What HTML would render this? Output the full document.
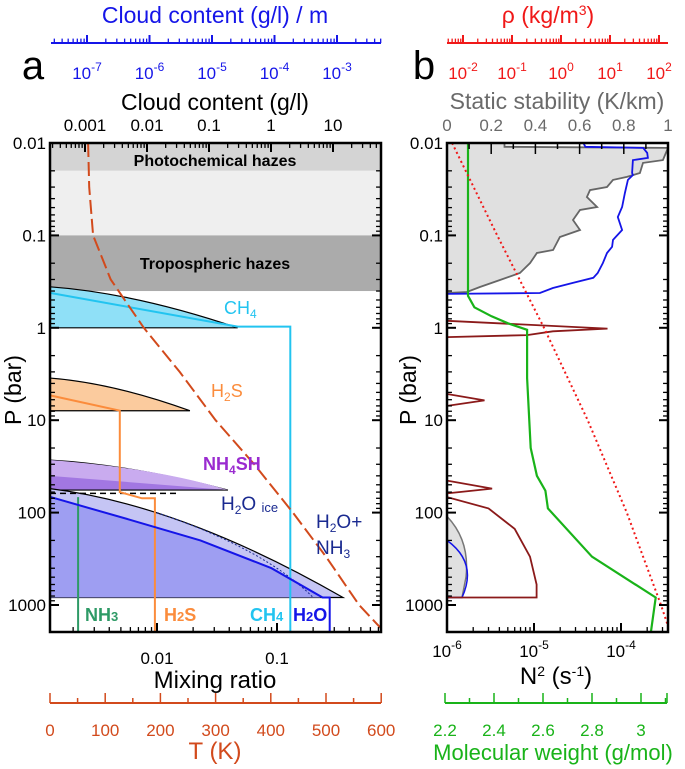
<!DOCTYPE html>
<html><head><meta charset="utf-8"><style>
body{margin:0;background:#fff}
svg{display:block;font-family:"Liberation Sans",Arial,sans-serif}
</style></head><body>
<svg id="fig" width="685" height="769" viewBox="0 0 685 769">
<g id="static"></g>
</svg>
<script>
// ---------- data ----------
const tempP=[0.01,0.03,0.1,0.3,1,3,10,30,100,300,1000,1800];
const tempT=[69,71,78,110,170,235,300,370,440,500,560,600];
const ch4P=[0.42,0.97,0.97,2000]; const ch4M=[0.0013,0.047,0.129,0.129];
const h2sP=[5.4,7.9,7.9,60,70,70,2000]; const h2sM=[0.0013,0.0049,0.0049,0.0049,0.0075,0.0096,0.0096];
const nh3P=[68,2000]; const nh3M=[0.0022,0.0022];
const h2oP=[68,120,200,400,830,830,2000]; const h2oM=[0.0013,0.006,0.023,0.09,0.24,0.275,0.275];
const cloudNames=["CH4","H2S","NH4SH","H2O"];
const cloudTop=[0.36,3.5,27,55]; const cloudBase=[1.0,7.9,57,830]; const cloudMax=[0.047,0.0188,0.039,0.355];
const rhoP=[0.01,0.1,1,10,100,1000,2000]; const rhoV=[0.006,0.05,0.45,3.5,22,110,170];
const mwP=[0.01,0.45,0.6,0.75,0.9,1.05,3.5,20,40,58,90,300,830,2000];
const mwV=[2.294,2.294,2.32,2.39,2.46,2.535,2.535,2.55,2.575,2.61,2.62,2.8,3.06,3.04];
const ssP=[0.01,0.01,0.011,0.0113,0.0153,0.0164,0.0211,0.0233,0.0251,0.0299,0.0323,0.0384,0.0493,0.0531,0.0681,0.0875,0.104,0.144,0.155,0.199,0.255,0.304,0.362,0.41,0.42];
const ssV=[0,0.26,0.26,1.0,0.977,0.887,0.873,0.814,0.751,0.724,0.647,0.633,0.679,0.602,0.57,0.602,0.511,0.48,0.407,0.376,0.33,0.24,0.149,0.09,0];
const n2bP=[0.01,0.01,0.011,0.0113,0.0128,0.0145,0.0153,0.0211,0.0222,0.0251,0.0348,0.0493,0.0632,0.0875,0.112,0.133,0.155,0.199,0.255,0.288,0.327,0.371,0.42,0.43];
const n2bV=[7.5e-5,3.7e-5,3.9e-5,1.8e-4,2e-4,2.04e-4,1.37e-4,1.34e-4,1.37e-4,1.2e-4,1.11e-4,1.03e-4,9.2e-5,1.03e-4,8.1e-5,7.9e-5,6.9e-5,6.2e-5,5.4e-5,4.8e-5,2.8e-5,1.65e-5,1.17e-5,1e-6];
const n2rP=[0.84,1.02,1.09,1.2,1.26,5.2,6.1,7,45,55,62,68,90,150,300,600,830,830];
const n2rV=[1e-6,7e-5,1.65e-5,8.3e-6,1e-6,1e-6,2.7e-6,1e-6,1e-6,3.3e-6,1e-6,1e-6,3e-6,6e-6,9e-6,1.07e-5,1.07e-5,1e-6];
// ---------- axes ----------
const yP=p=>143+(Math.log10(p)+2)*92.4;
const xM=m=>157+(Math.log10(m)+2)*120;
const xT=t=>50+t*0.552;
const xN=n=>447+(Math.log10(n)+6)*87;
const xS=s=>447+s*221;
const xR=r=>463+(Math.log10(r)+2)*49;
const xW=w=>445+(w-2.2)*245;
const NS="http://www.w3.org/2000/svg";
const svg=document.getElementById('fig');
function mk(tag,attrs,parent){const e=document.createElementNS(NS,tag);for(const k in attrs)e.setAttribute(k,attrs[k]);(parent||svg).appendChild(e);return e;}
function txt(x,y,s,size,fill,anchor){const e=mk('text',{x:x,y:y,'font-size':size,fill:fill,'text-anchor':anchor||'middle'});e.innerHTML=s;return e;}
function pts(P,V,fx){return P.map((p,i)=>fx(V[i]).toFixed(1)+','+yP(p).toFixed(1)).join(' ');}
const clipA=mk('clipPath',{id:'ca'});mk('rect',{x:50,y:143,width:331,height:489},clipA);
const clipB=mk('clipPath',{id:'cb'});mk('rect',{x:447,y:143,width:221,height:489},clipB);
const gA=mk('g',{'clip-path':'url(#ca)'});
const gB=mk('g',{'clip-path':'url(#cb)'});
let r;
r=mk('rect',{x:50,y:143,width:331,height:yP(0.02)-143,fill:'#d4d4d4'},gA);
r=mk('rect',{x:50,y:yP(0.02),width:331,height:yP(0.1)-yP(0.02),fill:'#efefef'},gA);
r=mk('rect',{x:50,y:yP(0.1),width:331,height:yP(0.4)-yP(0.1),fill:'#ababab'},gA);
const cFill=['#8fe0f7','#fbcb9e','#a277e2','#c5c5f4'];
cloudNames.forEach((n,i)=>{
 const x0=50,y0=yP(cloudTop[i]),y1=yP(cloudBase[i]),xa=xM(cloudMax[i]);
 const d=`M${x0},${y0} Q${x0+(xa-x0)*0.45},${y0+(y1-y0)*0.15} ${xa},${y1} L${x0},${y1} Z`;
 const p=mk('path',{d:d,fill:cFill[i],stroke:'#000','stroke-width':1.2},gA);
 
 
});
const innerPts=h2oP.slice(0,5).map((p,i)=>xM(h2oM[i])+','+yP(p)).join(' ')+` 50,${yP(830)}`;
const inner=mk('polygon',{points:innerPts,fill:'#9e9ef2'},gA);


const nl=mk('path',{d:`M50,${yP(27)} Q${xM(0.01)},${yP(33)} ${xM(0.039)},${yP(57)} L50,${yP(40)} Z`,fill:'#c9abef'},gA);


const dl=mk('line',{x1:50,y1:yP(62),x2:180,y2:yP(62),stroke:'#000','stroke-width':1.5,'stroke-dasharray':'6,4'},gA);


const dot=mk('path',{d:`M${xM(0.01)},${yP(100)} Q${xM(0.08)},${yP(250)} ${xM(0.2)},${yP(830)}`,fill:'none',stroke:'#1a2a90','stroke-width':1,'stroke-dasharray':'2,2'},gA);


let l;
l=mk('polyline',{points:pts(ch4P,ch4M,xM),fill:'none',stroke:'#22c4f0','stroke-width':2},gA);
l=mk('polyline',{points:pts(h2sP,h2sM,xM),fill:'none',stroke:'#fb8c3c','stroke-width':2},gA);
l=mk('polyline',{points:pts(nh3P,nh3M,xM),fill:'none',stroke:'#2e9a66','stroke-width':2},gA);
l=mk('polyline',{points:pts(h2oP,h2oM,xM),fill:'none',stroke:'#1515e8','stroke-width':2},gA);
l=mk('polyline',{points:pts(tempP,tempT,xT),fill:'none',stroke:'#d24a1c','stroke-width':2,'stroke-dasharray':'14,5'},gA);
const ssArea=mk('polygon',{points:pts(ssP,ssV,xS),fill:'#e0e0e0',stroke:'#666','stroke-width':1.8},gB);

const lobe=mk('path',{d:`M447,${yP(110)} Q470,${yP(200)} 466,${yP(500)} L462,${yP(830)} L447,${yP(830)} Z`,fill:'#e0e0e0',stroke:'#777','stroke-width':1.5},gB);

const lobeB=mk('path',{d:`M447,${yP(200)} Q478,${yP(350)} 462,${yP(830)} L447,${yP(830)}`,fill:'none',stroke:'#1515e8','stroke-width':1.5},gB);

l=mk('polyline',{points:pts(n2bP,n2bV,xN),fill:'none',stroke:'#1515e8','stroke-width':1.8},gB);
l=mk('polyline',{points:pts(n2rP,n2rV,xN),fill:'none',stroke:'#8b1a1a','stroke-width':1.8},gB);
l=mk('polyline',{points:pts(mwP,mwV,xW),fill:'none',stroke:'#19b319','stroke-width':2.2},gB);
l=mk('polyline',{points:pts(rhoP,rhoV,xR),fill:'none',stroke:'#f01818','stroke-width':2,'stroke-dasharray':'2,3'},gB);
let f=mk('rect',{x:50,y:143,width:331,height:489,fill:'none',stroke:'#000','stroke-width':2.5});
f=mk('rect',{x:447,y:143,width:221,height:489,fill:'none',stroke:'#000','stroke-width':2.5});
function logTicks(fx,lo,hi,y,dir,color,len,x0,x1){
 for(let e=lo;e<=hi;e++)for(let k=1;k<10;k++){const v=k*Math.pow(10,e);const x=fx(v);if(x<x0-0.5||x>x1+0.5)continue;
  const L=k==1?len:len*0.55;mk('line',{x1:x,y1:y,x2:x,y2:y+dir*L,stroke:color,'stroke-width':k==1?2:1.3});}
}
function logTicksY(x,dir,len){for(let e=-2;e<=3;e++)for(let k=1;k<10;k++){const v=k*Math.pow(10,e);const y=yP(v);if(y>632)continue;const L=k==1?len:len*0.55;mk('line',{x1:x,y1:y,x2:x+dir*L,y2:y,stroke:'#000','stroke-width':k==1?2:1.3});}}
logTicksY(50,1,9);logTicksY(381,-1,9);logTicksY(447,1,9);logTicksY(668,-1,9);
logTicks(xM,-3,0,632,-1,'#000',9,50,381);
const xC=c=>85+(Math.log10(c)+3)*62;
logTicks(xC,-4,1,143,1,'#000',9,50,381);
const xCm=c=>87+(Math.log10(c)+7)*62.5;
mk('line',{x1:51,y1:43,x2:381,y2:43,stroke:'#1515e8','stroke-width':2});
logTicks(xCm,-8,-3,43,-1,'#1515e8',8,50,381);
mk('line',{x1:50,y1:703,x2:381,y2:703,stroke:'#d24a1c','stroke-width':2});
for(let t=0;t<=600;t+=50){const x=xT(t);mk('line',{x1:x,y1:703,x2:x,y2:703-(t%100?5:10),stroke:'#d24a1c','stroke-width':1.5});}
const tLab=['0','100','200','300','400','500','600'];
tLab.forEach(s=>txt(xT(+s),736,s,17,'#d24a1c'));
txt(215,759,'T (K)',24,'#d24a1c');
logTicks(xN,-6,-4,632,-1,'#000',9,447,668);
for(let s=0;s<=1.001;s+=0.1){const x=xS(s);mk('line',{x1:x,y1:143,x2:x,y2:143+((Math.round(s*10)%2)?6:11),stroke:'#000','stroke-width':1.5});}
mk('line',{x1:447,y1:43,x2:668,y2:43,stroke:'#f01818','stroke-width':2});
logTicks(xR,-3,2,43,-1,'#f01818',8,447,668);
mk('line',{x1:445,y1:703,x2:667,y2:703,stroke:'#19b319','stroke-width':2});
for(let w=2.2;w<=3.101;w+=0.1){const x=xW(w);const major=Math.round(w*10)%2==0;mk('line',{x1:x,y1:703,x2:x,y2:703-(major?10:5),stroke:'#19b319','stroke-width':1.5});}
mk('line',{x1:667,y1:703,x2:667,y2:693,stroke:'#19b319','stroke-width':1.5});
['2.2','2.4','2.6','2.8','3'].forEach(s=>txt(xW(+s),736,s,17,'#19b319'));
txt(553,760,'Molecular weight (g/mol)',22,'#19b319');
txt(215,23,'Cloud content (g/l) / m',23,'#1515e8');
['-7','-6','-5','-4','-3'].forEach((e,i)=>txt(xCm(Math.pow(10,+e)),79,`10<tspan dy="-8" font-size="12">${e}</tspan>`,17,'#1515e8'));
txt(215,110,'Cloud content (g/l)',23,'#000');
['0.001','0.01','0.1','1','10'].forEach(s=>txt(xC(+s),131,s,17,'#000'));
txt(548,23,'ρ (kg/m<tspan dy="-8" font-size="14">3</tspan><tspan dy="8">)</tspan>',23,'#f01818');
['-2','-1','0','1','2'].forEach(e=>txt(xR(Math.pow(10,+e)),79,`10<tspan dy="-8" font-size="12">${e}</tspan>`,17,'#f01818'));
txt(557,109,'Static stability (K/km)',23,'#6a6a6a');
['0','0.2','0.4','0.6','0.8','1'].forEach(s=>txt(xS(+s),131,s,17,'#6a6a6a'));
txt(33,79,'a',40,'#000');txt(424,79,'b',40,'#000');
['0.01','0.1','1','10','100','1000'].forEach(s=>{txt(46,yP(+s)+6,s,17,'#000','end');txt(443,yP(+s)+6,s,17,'#000','end');});
const yl=txt(0,0,'P (bar)',23,'#000');yl.setAttribute('transform','translate(21,390) rotate(-90)');
const yl2=txt(0,0,'P (bar)',23,'#000');yl2.setAttribute('transform','translate(416,390) rotate(-90)');
['0.01','0.1'].forEach(s=>txt(xM(+s),664,s,17,'#000'));
txt(215,688,'Mixing ratio',24,'#000');
['-6','-5','-4'].forEach(e=>txt(xN(Math.pow(10,+e)),657,`10<tspan dy="-8" font-size="12">${e}</tspan>`,17,'#000'));
txt(556,684,'N<tspan dy="-8" font-size="14">2</tspan><tspan dy="8"> (s</tspan><tspan dy="-8" font-size="14">-1</tspan><tspan dy="8">)</tspan>',24,'#000');
const b1=txt(215,166,'Photochemical hazes',16,'#000');b1.setAttribute('font-weight','bold');
const b2=txt(215,269,'Tropospheric hazes',16,'#000');b2.setAttribute('font-weight','bold');
txt(224,314,'CH<tspan font-size="12" dy="4">4</tspan>',18,'#22c4f0','start');
txt(211,397,'H<tspan font-size="12" dy="4">2</tspan><tspan dy="-4">S</tspan>',18,'#fb8c3c','start');
const nh=txt(203,470,'NH<tspan font-size="12" dy="4">4</tspan><tspan dy="-4">SH</tspan>',18,'#9a2bd0','start');nh.setAttribute('font-weight','bold');
txt(221,510,'H<tspan font-size="12" dy="4">2</tspan><tspan dy="-4">O </tspan><tspan font-size="13" dy="2">ice</tspan>',19,'#1a2a90','start');
txt(316,528,'H<tspan font-size="12" dy="4">2</tspan><tspan dy="-4">O+</tspan>',19,'#1a2a90','start');
txt(316,554,'NH<tspan font-size="12" dy="4">3</tspan>',19,'#1a2a90','start');
const bl=[['NH<tspan font-size="13">3</tspan>',85,'#2e9a66'],['H<tspan font-size="13">2</tspan>S',164,'#fb8c3c'],['CH<tspan font-size="13">4</tspan>',250,'#22c4f0'],['H<tspan font-size="13">2</tspan>O',293,'#1515e8']];
bl.forEach(b=>{const t=txt(b[1],621,b[0],18,b[2],'start');t.setAttribute('font-weight','bold');});
</script>
</body></html>
